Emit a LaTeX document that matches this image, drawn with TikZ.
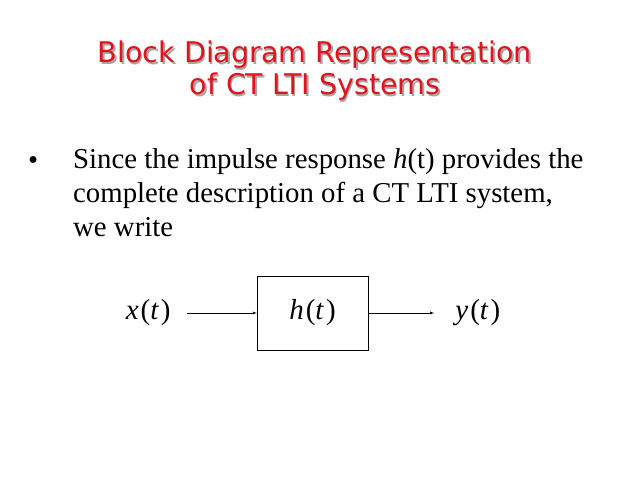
\documentclass[tikz,border=0pt]{standalone}
\usepackage{fontspec}
\setmainfont{Liberation Serif}
\newfontfamily\titlefont{DejaVu Sans}
\usetikzlibrary{positioning}
\definecolor{titlered}{RGB}{225,20,30}
\newcommand{\sigsp}{\kern2pt}
\begin{document}
\begin{tikzpicture}[
                    x=1pt, y=-1pt,
                    node distance=2cm,
                    >=latex,
                    titletext/.style={font=\titlefont\fontsize{28.5}{32}\selectfont, align=center},
                    bodytext/.style={font=\fontsize{28.8}{34}\selectfont, align=left, anchor=base west, inner sep=0pt},
                    sig/.style={font=\fontsize{29}{30}\selectfont, inner ysep=0pt, inner xsep=16pt}
                    ]
                    \useasboundingbox[fill=white] (0,0) rectangle (638,478);

                    % title with its shadow
                    \node [titletext, text=black!35] (shadow) at (316.5,72.5) {Block Diagram Representation\\of CT LTI Systems};
                    \node [titletext, text=titlered] (title) at (315,71) {Block Diagram Representation\\of CT LTI Systems};

                    \node [bodytext] (bullet) at (28,170) {\textbullet};
                    \node [bodytext] (text) at (73,237) {Since the impulse response \textit{h}(t) provides the\\complete description of a CT LTI system,\\we write};

                    \node [draw, rectangle, minimum height=74pt, minimum width=111pt, inner sep=0pt, font=\fontsize{29}{30}\selectfont] (block) at (312.5,313) {\textit{h}\sigsp(\textit{t}\sigsp)};
                    \node [sig, left=70pt of block] (input) {\textit{x}\sigsp(\textit{t}\sigsp)};
                    \node [sig, inner xsep=21pt, right=66pt of block] (output) {\textit{y}\sigsp(\textit{t}\sigsp)};

                    \draw[->] (input) -- (block);
                    \draw[->] (block) -- (output);
                \end{tikzpicture}
\end{document}
